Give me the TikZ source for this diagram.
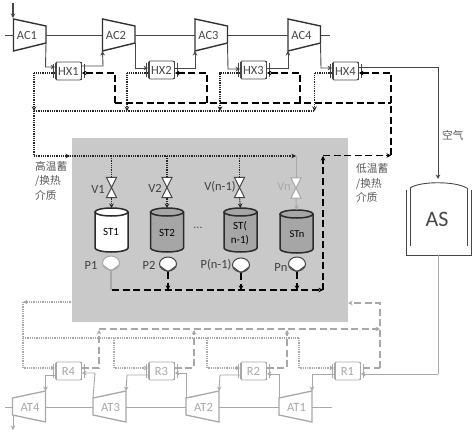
\documentclass[tikz,border=0pt]{standalone}
\usepackage{fontspec}
\setmainfont{Carlito}
\newfontfamily\cjk{Noto Sans CJK SC}
\usetikzlibrary{arrows.meta}
\definecolor{dk}{HTML}{474747}
\definecolor{lg}{HTML}{A8A8A8}
\definecolor{panel}{HTML}{C9C9C9}
\definecolor{tankfill}{HTML}{A6A6A6}
\tikzset{
  tip/.style={-{Stealth[length=4.5pt,width=4.5pt]}},
  thin line/.style={draw=dk,line width=0.9pt},
  heat/.style={draw=black,line width=1.5pt,dash pattern=on 7pt off 3.5pt},
  cool/.style={draw=black!85,line width=1.1pt,dash pattern=on 1pt off 0.8pt},
  gthin/.style={draw=lg,line width=0.9pt},
  gheat/.style={draw=lg,line width=1.3pt,dash pattern=on 7pt off 3.5pt},
  gcool/.style={draw=lg,line width=1.1pt,dash pattern=on 1pt off 0.8pt},
  unit/.style={font=\fontsize{12.5}{13}\selectfont,inner sep=0pt},
  cnlabel/.style={font=\cjk\fontsize{10.7}{14.5}\selectfont,text=black!65,inner sep=0pt,anchor=west},
  smalllabel/.style={font=\fontsize{12.5}{13}\selectfont,inner sep=0pt,text=black!75},
}
\newcommand\compr[2]{%
  \draw[line width=1.4pt,draw=dk!70!black,line join=miter] (#2,19)--(#2+32.5,26)--(#2+32.5,43)--(#2,51)--cycle;
  \coordinate (#1lb) at (#2,51);\coordinate (#1l) at (#2,35);
  \coordinate (#1r) at (#2+32.5,35);\coordinate (#1rb) at (#2+32.5,43);
  \node[unit,text=dk] (#1) at (#2+13.5,35) {#1};}
\newcommand\turb[2]{%
  \draw[line width=1.3pt,draw=lg,line join=miter] (#2,398)--(#2+33,391)--(#2+33,422)--(#2,415)--cycle;
  \coordinate (#1lt) at (#2,398);\coordinate (#1lb) at (#2,415);\coordinate (#1l) at (#2,407);
  \coordinate (#1r) at (#2+33,407);\coordinate (#1rt) at (#2+33,391);
  \node[unit,text=lg] (#1) at (#2+17.5,407) {#1};}
\newcommand\exch[4]{%
  \node[draw=#4,line width=0.8pt,rounded corners=1.5pt,minimum width=26pt,minimum height=18pt,inner sep=0pt,
    font=\fontsize{12.5}{13}\selectfont,text=#4] (#1) at (#2+15.5,#3+9) {#1};
  \draw[draw=#4,line width=0.8pt] (#2,#3+2)--(#2,#3+16) (#2+31,#3+2)--(#2+31,#3+16)
    (#2+3,#3)--(#2+3,#3+18) (#2+28,#3)--(#2+28,#3+18);}
\newcommand\valve[4]{%
  \draw[draw=#4,fill=white,line width=1pt,line join=miter] (#2-5,#3-10)--(#2+5,#3-10)--(#2-5,#3+10)--(#2+5,#3+10)--cycle;
  \coordinate (#1t) at (#2,#3-10);\coordinate (#1b) at (#2,#3+10);}
\newcommand\tank[5]{%
  \draw[draw=dk!60!black,fill=#5,line width=1.5pt] (#2-16.5,#3)--(#2-16.5,#4) arc[start angle=180,end angle=360,x radius=16.5,y radius=-4]--(#2+16.5,#3);
  \draw[draw=dk!60!black,fill=#5,line width=1.5pt] (#2,#3) ellipse[x radius=16.5,y radius=4];
  \coordinate (#1t) at (#2,#3-4);}
\newcommand\pump[4]{%
  \draw[draw=#4,fill=white,line width=1pt] (#2,#3) ellipse[x radius=8.5,y radius=7];
  \draw[draw=#4,line width=1pt] (#2-8,#3+2)--(#2,#3+8)--(#2+8,#3+2);
  \coordinate (#1b) at (#2,#3+8);}
\begin{document}
\begin{tikzpicture}[x=1pt,y=-1pt]
\useasboundingbox (0,0) rectangle (474,433);
\fill[panel] (71.5,138) rectangle (348,322);
\node[inner sep=0pt,minimum size=0pt] (panelR) at (348,303) {};
\node[inner sep=0pt,minimum size=0pt] (panelL) at (71.5,302) {};

\compr{AC1}{13.5}\compr{AC2}{102.5}\compr{AC3}{195}\compr{AC4}{288}
\exch{HX1}{53}{62}{dk}\exch{HX2}{146}{61}{dk}\exch{HX3}{238}{61}{dk}\exch{HX4}{330}{62}{dk}
\coordinate (inT) at (13,3);\coordinate (inB) at (13,18);
\coordinate (sh0) at (5,35);\coordinate (sh9) at (330,35);
\draw[thin line,tip,line width=1.2pt] (inT)--(inB);
\draw[thin line] (sh0)--(AC1l) (AC1r)--(AC2l) (AC2r)--(AC3l) (AC3r)--(AC4l) (AC4r)--(sh9);
\draw[thin line,tip] (AC1rb)--(45.5,67)--([yshift=4pt]HX1.west);
\draw[thin line,tip] ([yshift=5pt]HX1.east)--(103,66)--(AC2lb);
\draw[thin line,tip] (AC2rb)--(135,68)--([yshift=2pt]HX2.west);
\draw[thin line,tip] ([yshift=2pt]HX2.east)--(195,68)--(AC3lb);
\draw[thin line,tip] (AC3rb)--(228,69)--([yshift=1pt]HX3.west);
\draw[thin line,tip] ([yshift=2pt]HX3.east)--(288,68)--(AC4lb);
\draw[thin line,tip] (AC4rb)--(321,68)--([yshift=3pt]HX4.west);

\coordinate (ASbl) at (406,255);\coordinate (ASbr) at (471,255);
\draw[draw=dk,line width=0.9pt] (406,190)--(ASbl)--(ASbr)--(471,190);
\draw[draw=dk,line width=0.9pt] (410,188) .. controls (420,181) and (455,181) .. (467,188);
\draw[draw=dk,line width=0.9pt] (410,188)--(410,246) (467,188)--(467,246);
\node[font=\fontsize{22}{22}\selectfont,text=dk,inner sep=0pt] (AS) at (437,219) {AS};
\coordinate (AStop) at (438,179);\coordinate (ASbot) at (438,255);
\draw[thin line,tip] ([yshift=4pt]HX4.east)--(438,67)--(AStop);
\node[cnlabel] (air) at (442,135) {空气};

\coordinate (dA) at (34,111);\coordinate (dB) at (34,156);\coordinate (dE) at (314.5,111);
\draw[cool,tip] ([yshift=-2pt]HX1.west)--(34,73)--(dA);
\draw[cool] (dA)--(dB);
\draw[cool] (dA)--(dE);
\draw[cool,tip] ([yshift=-3pt]HX2.west)--(127,73)--(127,111);
\draw[cool,tip] ([yshift=-3pt]HX3.west)--(220,73)--(220,111);
\draw[cool,tip] ([yshift=-2pt]HX4.west)--(314.5,73)--(dE);
\coordinate (hA) at (115,103);\coordinate (hE) at (391,103);
\draw[heat] (hA)--(hE);
\draw[heat,tip] (hA)--(115,73)--([yshift=-2pt]HX1.east);
\draw[heat,tip] (207,103)--(207,73)--([yshift=-3pt]HX2.east);
\draw[heat,tip] (300,103)--(300,73)--([yshift=-3pt]HX3.east);
\draw[heat,tip] (391,155.5)--(391,73)--([yshift=-2pt]HX4.east);

\valve{V1}{111.5}{187.5}{dk}\valve{V2}{167}{187.5}{dk}\valve{Vm}{239.5}{187.5}{dk}\valve{Vn}{296}{188}{lg}
\tank{T1}{111.5}{212}{248}{white}\tank{T2}{167}{212}{248}{tankfill}\tank{Tm}{240.5}{212}{248}{tankfill}\tank{Tn}{296.5}{214}{249}{tankfill}
\node[font=\fontsize{11}{12}\selectfont,inner sep=0pt] (ST1) at (111,232) {ST1};
\node[font=\fontsize{11}{12}\selectfont,inner sep=0pt] (ST2) at (167,233) {ST2};
\node[font=\fontsize{11}{14}\selectfont,inner sep=0pt,align=center] (STm) at (240,233) {ST(\\n-1)};
\node[font=\fontsize{10.5}{12}\selectfont,inner sep=0pt] (STn) at (297,234) {STn};
\node[unit,text=black!65] (dots) at (198,228) {…};
\pump{P1}{111}{263}{lg}\pump{P2}{168}{264}{dk}\pump{Pm}{241}{265}{dk}\pump{Pn}{297}{264}{dk}
\draw[cool] (dB)--(240,156);
\draw[cool,tip] (dB)--(70,156);
\draw[cool,tip] (240,156)--(296,156);
\draw[gthin] (296,156)--(Vnt);
\draw[gthin,tip] (Vnb)--(Tnt);
\draw[cool] (111.5,156)--(V1t) (167,156)--(V2t) (239.5,156)--(Vmt);
\draw[cool,tip] (V1b)--(T1t);\draw[cool,tip] (V2b)--(T2t);\draw[cool,tip] (Vmb)--(Tmt);
\draw[gthin,line width=1.5pt] (P1b)--(111,290);
\draw[heat,tip] (P2b)--(168,290);
\draw[heat,tip] (Pmb)--(241,290);
\draw[heat,tip] (Pnb)--(297,290);
\draw[heat,tip] (112,290)--(323,290);
\draw[heat,tip] (323,290)--(323,156);
\draw[heat,tip] (323,155.5)--(391,155.5);

\node[smalllabel] (lP1) at (91,265) {P1};
\node[smalllabel] (lP2) at (149,265) {P2};
\node[smalllabel] (lPm) at (216,265) {P(n-1)};
\node[smalllabel] (lPn) at (281,267) {Pn};
\node[smalllabel] (lV1) at (98,189) {V1};
\node[smalllabel] (lV2) at (155,188) {V2};
\node[smalllabel] (lVm) at (220,187) {V(n-1)};
\node[smalllabel,text=lg] (lVn) at (284,186) {Vn};
\node[cnlabel,align=left,text width=40pt] (hiT) at (35,180.5) {高温蓄\\/换热\\介质};
\node[cnlabel,align=left,text width=40pt] (loT) at (356,183) {低温蓄\\/换热\\介质};

\turb{AT4}{12.5}\turb{AT3}{93}\turb{AT2}{186}\turb{AT1}{279}
\exch{R4}{53}{362}{lg}\exch{R3}{146}{362}{lg}\exch{R2}{238}{362}{lg}\exch{R1}{332}{362}{lg}
\coordinate (sL) at (5,407);\coordinate (sR) at (332,407);
\draw[gthin] (sL)--(AT4l) (AT4r)--(AT3l) (AT3r)--(AT2l) (AT2r)--(AT1l) (AT1r)--(sR);
\draw[gthin,tip] (13,415)--(13,430);
\draw[gthin] (ASbot)--(438,374);
\draw[gthin,tip] (438,374)--([yshift=-3pt]R1.east);
\draw[gthin,tip] ([yshift=-3pt]R1.west)--(312,374)--(AT1rt);
\draw[gthin,tip] (AT1lt)--(279,374)--([yshift=-3pt]R2.east);
\draw[gthin,tip] ([yshift=-4pt]R2.west)--(220,375)--(AT2rt);
\draw[gthin,tip] (AT2lt)--(186,373)--([yshift=-2pt]R3.east);
\draw[gthin,tip] ([yshift=-4pt]R3.west)--(127,375)--(AT3rt);
\draw[gthin,tip] (AT3lt)--(95,373)--([yshift=-2pt]R4.east);
\draw[gthin,tip] ([yshift=-4pt]R4.west)--(45.5,375)--(AT4rt);
\coordinate (gA) at (23,338);\coordinate (gE) at (299,338);
\draw[gcool,tip] (panelL)--(23,302);
\draw[gcool] (23,302)--(gA);
\draw[gcool,tip] (gA)--(23,368)--([yshift=3pt]R4.west);
\draw[gcool] (gA)--(gE);
\draw[gcool,tip] (114,338)--(114,368)--([yshift=3pt]R3.west);
\draw[gcool,tip] (207,338)--(207,368)--([yshift=3pt]R2.west);
\draw[gcool,tip] (gE)--(299,368)--([yshift=3pt]R1.west);
\coordinate (hF) at (380,329);
\draw[gheat,tip] (380,368)--(380,303)--(panelR);
\draw[gheat] (363,368)--(380,368);
\draw[gheat,tip] (99,329)--(hF);
\draw[gheat,tip] ([yshift=3pt]R4.east)--(99,368)--(99,330);
\draw[gheat,tip] ([yshift=3pt]R3.east)--(194,368)--(194,330);
\draw[gheat,tip] ([yshift=3pt]R2.east)--(287,368)--(287,330);
\end{tikzpicture}
\end{document}
